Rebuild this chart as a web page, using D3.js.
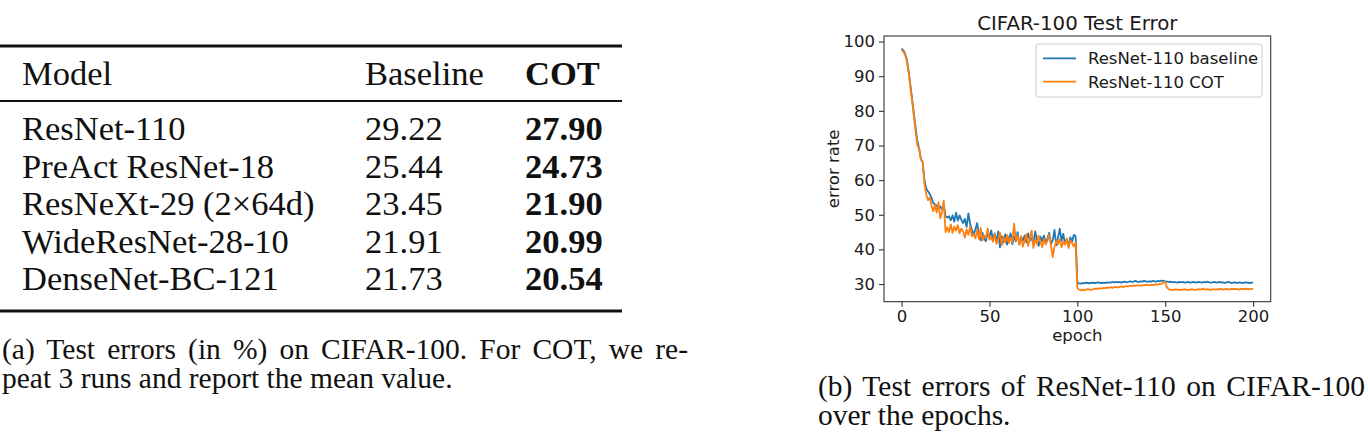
<!DOCTYPE html>
<html>
<head>
<meta charset="utf-8">
<script src="https://cdn.jsdelivr.net/npm/d3@7"></script>
<style>
  html, body { margin: 0; padding: 0; background: #fff; }
  svg { display: block; }
  .serif { font-family: "Liberation Serif", "Times New Roman", serif; fill: #111; }
  .sans { font-family: "DejaVu Sans", sans-serif; fill: #1a1a1a; }
</style>
</head>
<body>
<svg id="fig" width="1368" height="441"></svg>
<script>
// ---------------- Table data ----------------
const tableHeaders = ["Model", "Baseline", "COT"];
const models = ["ResNet-110", "PreAct ResNet-18", "ResNeXt-29 (2\u00d764d)", "WideResNet-28-10", "DenseNet-BC-121"];
const baselineErr = ["29.22", "25.44", "23.45", "21.91", "21.73"];
const cotErr = ["27.90", "24.73", "21.90", "20.99", "20.54"];

const captionA = ["(a) Test errors (in %) on CIFAR-100. For COT, we re-", "peat 3 runs and report the mean value."];
const captionB = ["(b) Test errors of ResNet-110 on CIFAR-100", "over the epochs."];

// ---------------- Chart data ----------------
const chartTitle = "CIFAR-100 Test Error";
const xLabel = "epoch";
const yLabel = "error rate";
const seriesNames = ["ResNet-110 baseline", "ResNet-110 COT"];
const xTicks = [0, 50, 100, 150, 200];
const yTicks = [30, 40, 50, 60, 70, 80, 90, 100];

// test error per epoch (epoch 0..200)
const baselineCurve = [
  98.0, 97.4, 96.5, 94.8, 91.5, 87.5, 83.3, 79.2, 75.0, 71.2,
  69.0, 66.0, 65.2, 60.0, 57.6, 56.8, 56.0, 55.0, 53.4, 53.0,
  52.6, 51.8, 52.4, 51.6, 53.0, 49.6, 49.2, 49.6, 48.4, 49.8,
  48.0, 50.6, 48.3, 49.8, 48.6, 47.6, 48.8, 46.5, 50.4, 47.4,
  45.6, 44.3, 45.8, 47.6, 44.0, 42.6, 44.8, 43.0, 42.4, 44.9,
  43.5, 45.5, 42.8, 44.6, 42.2, 45.2, 40.6, 43.8, 42.0, 44.4,
  41.4, 43.2, 44.6, 41.5, 43.8, 42.3, 45.0, 41.4, 43.6, 42.5,
  44.0, 42.0, 44.6, 42.6, 43.2, 41.6, 45.2, 42.8, 41.0, 43.7,
  42.4, 44.0, 41.8, 43.2, 44.8, 41.5, 42.7, 45.6, 41.2, 43.4,
  46.0, 42.4, 44.5, 41.6, 42.8, 41.0, 43.5, 42.2, 44.2, 43.8,
  30.4, 30.2, 30.1, 30.3, 30.2, 30.4, 30.3, 30.2, 30.4, 30.3,
  30.3, 30.4, 30.5, 30.3, 30.3, 30.4, 30.3, 30.5, 30.4, 30.4,
  30.6, 30.5, 30.6, 30.5, 30.6, 30.4, 30.6, 30.7, 30.5, 30.6,
  30.8, 30.6, 30.7, 30.9, 30.7, 30.6, 30.8, 30.7, 30.9, 30.8,
  30.6, 30.8, 30.7, 30.9, 30.8, 30.7, 30.9, 30.8, 31.0, 30.9,
  30.8, 30.7, 30.6, 30.7, 30.5, 30.6, 30.5, 30.4, 30.6, 30.5,
  30.6, 30.4, 30.5, 30.6, 30.4, 30.5, 30.6, 30.5, 30.4, 30.6,
  30.5, 30.4, 30.6, 30.5, 30.7, 30.5, 30.4, 30.5, 30.6, 30.4,
  30.5, 30.6, 30.4, 30.5, 30.3, 30.5, 30.6, 30.4, 30.3, 30.5,
  30.4, 30.3, 30.5, 30.4, 30.3, 30.4, 30.5, 30.4, 30.3, 30.4,
  30.4
];
const cotCurve = [
  97.6, 97.0, 96.2, 94.2, 91.0, 87.0, 82.8, 78.5, 74.0, 70.0,
  69.2, 66.0, 65.4, 59.0, 56.0, 54.2, 55.0, 52.6, 51.0, 52.8,
  50.6, 53.6, 49.0, 50.8, 54.0, 45.0, 46.4, 45.0, 47.2, 44.8,
  46.6, 45.4, 47.0, 44.6, 46.0, 45.2, 43.4, 45.8, 44.2, 46.6,
  43.8, 44.4, 43.2, 45.6, 43.0, 46.2, 42.6, 44.0, 43.4, 46.0,
  42.8, 43.6, 42.2, 44.4, 41.6, 43.0, 44.8, 41.2, 43.6, 42.0,
  44.2, 41.8, 43.4, 42.0, 47.4, 42.6, 44.0, 41.4, 43.8, 40.8,
  42.6, 44.4, 41.0, 43.2, 45.4, 40.4, 42.8, 41.6, 44.0, 42.2,
  40.6, 43.0, 41.4, 42.6, 44.2, 41.0, 37.8, 40.8, 42.6, 41.4,
  43.0, 40.6, 42.2, 41.4, 43.2, 40.4, 42.6, 41.8, 40.8, 42.0,
  28.9, 28.4, 28.2, 28.3, 28.2, 28.4, 28.5, 28.4, 28.3, 28.5,
  28.6, 28.7, 28.6, 28.8, 28.7, 28.9, 28.8, 29.0, 28.9, 29.1,
  28.9, 29.1, 29.2, 29.0, 29.2, 29.3, 29.1, 29.3, 29.4, 29.3,
  29.5, 29.4, 29.6, 29.5, 29.6, 29.6, 29.5, 29.7, 29.6, 29.8,
  29.7, 29.6, 29.8, 29.7, 29.9, 29.8, 29.9, 30.0, 30.1, 30.4,
  30.6, 29.0, 28.5, 28.3, 28.4, 28.3, 28.5, 28.3, 28.4, 28.3,
  28.4, 28.5, 28.3, 28.4, 28.3, 28.5, 28.4, 28.3, 28.4, 28.5,
  28.4, 28.6, 28.5, 28.4, 28.5, 28.4, 28.3, 28.5, 28.4, 28.5,
  28.4, 28.6, 28.5, 28.4, 28.5, 28.6, 28.4, 28.5, 28.6, 28.5,
  28.6, 28.5, 28.4, 28.6, 28.5, 28.6, 28.5, 28.6, 28.5, 28.6,
  28.6
];

const svg = d3.select("#fig");

// ================= TABLE =================
const colX = d3.scaleOrdinal().domain(tableHeaders).range([22, 365, 525]);
const rowY = d3.scaleLinear().domain([0, models.length - 1]).range([140, 290]);
const tableLeft = 0, tableRight = 622;
const tableFont = 34.5;

const rules = [
  { y: 46, w: 3 },
  { y: 101, w: 1.8 },
  { y: 311, w: 3 }
];
svg.selectAll("line.rule").data(rules).join("line")
  .attr("class", "rule")
  .attr("x1", tableLeft).attr("x2", tableRight)
  .attr("y1", d => d.y).attr("y2", d => d.y)
  .attr("stroke", "#111").attr("stroke-width", d => d.w);

svg.selectAll("text.hdr").data(tableHeaders).join("text")
  .attr("class", "hdr serif")
  .attr("x", d => colX(d)).attr("y", 85)
  .attr("font-size", tableFont)
  .attr("font-weight", d => d === "COT" ? "bold" : "normal")
  .text(d => d);

const rows = models.map((m, i) => ({ m, b: baselineErr[i], c: cotErr[i], i }));
const rowG = svg.selectAll("g.row").data(rows).join("g").attr("class", "row");
rowG.append("text").attr("class", "serif").attr("x", colX("Model")).attr("y", d => rowY(d.i))
  .attr("font-size", tableFont).text(d => d.m);
rowG.append("text").attr("class", "serif").attr("x", colX("Baseline")).attr("y", d => rowY(d.i))
  .attr("font-size", tableFont).text(d => d.b);
rowG.append("text").attr("class", "serif").attr("x", colX("COT")).attr("y", d => rowY(d.i))
  .attr("font-size", tableFont).attr("font-weight", "bold").text(d => d.c);

// captions (first line of each justified to the column width)
function justify(sel, widths) {
  sel.each(function (d, i) {
    const w = widths[i];
    if (!w) return;
    const len = this.getComputedTextLength();
    const spaces = (d.match(/ /g) || []).length;
    if (spaces > 0 && w > len) d3.select(this).attr("word-spacing", (w - len) / spaces);
  });
}
svg.selectAll("text.capA").data(captionA).join("text")
  .attr("class", "capA serif")
  .attr("x", 2).attr("y", (d, i) => 359 + i * 29)
  .attr("font-size", 29.5)
  .text(d => d)
  .call(justify, [686, 0]);
svg.selectAll("text.capB").data(captionB).join("text")
  .attr("class", "capB serif")
  .attr("x", 818).attr("y", (d, i) => 396 + i * 29)
  .attr("font-size", 29.5)
  .text(d => d)
  .call(justify, [547, 0]);

// ================= CHART =================
const plot = { left: 884, right: 1270.7, top: 36, bottom: 301.7 };
const x = d3.scaleLinear().domain([-10, 210]).range([plot.left, plot.right]);
const y = d3.scaleLinear().domain([24.9, 101.6]).range([plot.bottom, plot.top]);

const series = [
  { name: seriesNames[0], values: baselineCurve, color: "#1f77b4" },
  { name: seriesNames[1], values: cotCurve, color: "#ff7f0e" }
];

const line = d3.line().x((d, i) => x(i)).y(d => y(d));
svg.append("g").selectAll("path").data(series).join("path")
  .attr("d", d => line(d.values))
  .attr("fill", "none")
  .attr("stroke", d => d.color)
  .attr("stroke-width", 1.8)
  .attr("stroke-linejoin", "round");

// frame
svg.append("rect")
  .attr("x", plot.left).attr("y", plot.top)
  .attr("width", plot.right - plot.left).attr("height", plot.bottom - plot.top)
  .attr("fill", "none").attr("stroke", "#333").attr("stroke-width", 1.1);

// axes
const xAxis = svg.append("g").attr("transform", `translate(0,${plot.bottom})`)
  .call(d3.axisBottom(x).tickValues(xTicks).tickSize(5).tickPadding(4).tickFormat(d3.format("d")));
const yAxis = svg.append("g").attr("transform", `translate(${plot.left},0)`)
  .call(d3.axisLeft(y).tickValues(yTicks).tickSize(5).tickPadding(4).tickFormat(d3.format("d")));
[xAxis, yAxis].forEach(a => {
  a.select(".domain").remove();
  a.selectAll(".tick line").attr("stroke", "#333").attr("stroke-width", 1.1);
  a.selectAll(".tick text").attr("font-family", "DejaVu Sans, sans-serif")
    .attr("font-size", 16.5).attr("fill", "#1a1a1a");
});

// title & labels
svg.append("text").attr("class", "sans")
  .attr("x", (plot.left + plot.right) / 2).attr("y", 30)
  .attr("text-anchor", "middle").attr("font-size", 19.8).text(chartTitle);
svg.append("text").attr("class", "sans")
  .attr("x", (plot.left + plot.right) / 2).attr("y", 341)
  .attr("text-anchor", "middle").attr("font-size", 16.5).text(xLabel);
svg.append("text").attr("class", "sans")
  .attr("transform", `translate(839,${(plot.top + plot.bottom) / 2}) rotate(-90)`)
  .attr("text-anchor", "middle").attr("font-size", 16.5).text(yLabel);

// legend
const lg = svg.append("g");
lg.append("rect")
  .attr("x", 1036).attr("y", 44).attr("width", 226).attr("height", 53)
  .attr("rx", 3).attr("fill", "#fff").attr("fill-opacity", 0.8)
  .attr("stroke", "#ccc").attr("stroke-width", 1);
const items = lg.selectAll("g.item").data(series).join("g").attr("class", "item")
  .attr("transform", (d, i) => `translate(0,${58.3 + i * 23.4})`);
items.append("line").attr("x1", 1043).attr("x2", 1076).attr("y1", 0).attr("y2", 0)
  .attr("stroke", d => d.color).attr("stroke-width", 1.8);
items.append("text").attr("class", "sans").attr("x", 1088).attr("y", 0)
  .attr("dy", "0.36em").attr("font-size", 16.5).text(d => d.name);
</script>
</body>
</html>
